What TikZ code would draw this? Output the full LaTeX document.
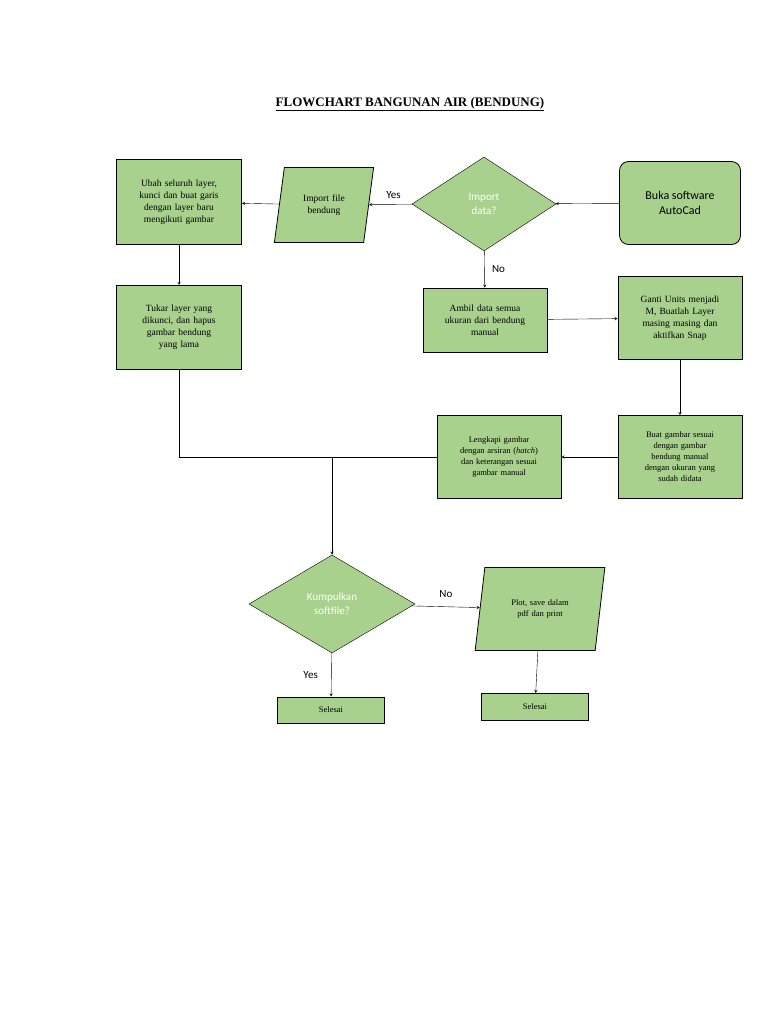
\documentclass[tikz,border=0pt]{standalone}
\usepackage{fontspec}
\setmainfont{Liberation Serif}
\newfontfamily\calibri{Carlito}
\usetikzlibrary{shapes.geometric,positioning}
\definecolor{boxgreen}{RGB}{169,209,142}
\tikzset{
  box/.style={draw=black,thick,fill=boxgreen,align=center,font=\fontsize{9.5}{12}\selectfont,inner sep=2pt},
  io/.style={box,trapezium,trapezium left angle=72,trapezium right angle=108,trapezium stretches=true},
  decision/.style={draw=black,fill=boxgreen,diamond,align=center,font=\calibri\fontsize{11}{14}\selectfont,text=white,aspect=1.5,inner sep=0pt},
  flow/.style={->,>=stealth},
  lbl/.style={font=\calibri\fontsize{11}{13}\selectfont}
}
\begin{document}
\begin{tikzpicture}[x=1pt,y=-1pt]
\useasboundingbox (0,0) rectangle (768,1024);

\node[font=\bfseries\fontsize{13}{15}\selectfont] (title) at (410,104) {\underline{FLOWCHART BANGUNAN AIR (BENDUNG)}};

% top row
\node[box,rounded corners=9pt,minimum width=121pt,minimum height=83pt,font=\calibri\fontsize{12}{15}\selectfont] (buka) at (680,203) {Buka software\\AutoCad};
\node[decision,minimum width=144pt,minimum height=94pt] (importdata) at (484,204) {Import\\data?};
\node[io,minimum width=100pt,minimum height=75pt,text width=60pt] (importfile) at (324,205) {Import file\\bendung};
\node[box,minimum width=125pt,minimum height=85pt,text width=115pt] (ubah) at (179,202) {Ubah seluruh layer,\\kunci dan buat garis\\dengan layer baru\\mengikuti gambar};

% second row
\node[box,minimum width=125pt,minimum height=84pt,text width=115pt,anchor=north] (tukar) at (179,285) {Tukar layer yang\\dikunci, dan hapus\\gambar bendung\\yang lama};
\node[box,minimum width=124pt,minimum height=64pt,text width=115pt] (ambil) at (485,320) {Ambil data semua\\ukuran dari bendung\\manual};
\node[box,minimum width=124pt,minimum height=83pt,text width=118pt] (ganti) at (680,318) {Ganti Units menjadi\\M, Buatlah Layer\\masing masing dan\\aktifkan Snap};

% third row
\node[box,minimum width=124pt,minimum height=83pt,text width=118pt,font=\fontsize{8.5}{11}\selectfont] (buat) at (680,457) {Buat gambar sesuai\\dengan gambar\\bendung manual\\dengan ukuran yang\\sudah didata};
\node[box,minimum width=124pt,minimum height=83pt,text width=118pt,font=\fontsize{8.5}{11}\selectfont] (lengkapi) at (499,457) {Lengkapi gambar\\dengan arsiran (\textit{hatch})\\dan keterangan sesuai\\gambar manual};

% bottom
\node[decision,minimum width=166pt,minimum height=98pt] (kumpulkan) at (332,604) {Kumpulkan\\softfile?};
\node[io,minimum width=130pt,minimum height=83pt,text width=80pt,font=\fontsize{8.5}{11}\selectfont] (plot) at (540,609) {Plot, save dalam\\pdf dan print};
\node[box,minimum width=107pt,minimum height=26pt,font=\fontsize{8.5}{11}\selectfont] (selesaiA) at (331,710) {Selesai};
\node[box,minimum width=107pt,minimum height=27pt,font=\fontsize{8.5}{11}\selectfont] (selesaiB) at (535,707) {Selesai};

\coordinate (corner) at (tukar.south |- lengkapi.west);
\coordinate (join) at (kumpulkan.north |- lengkapi.west);

\draw[flow] (buka) -- (importdata);
\draw[flow] (importdata) -- node[lbl,above right=2pt and -8pt] {Yes} (importfile);
\draw[flow] (importfile) -- (ubah);
\draw[flow] (ubah) -- (tukar);
\draw[flow] (importdata) -- node[lbl,right=4pt] {No} (ambil);
\draw[flow] (ambil) -- (ganti);
\draw[flow] (ganti) -- (buat);
\draw[flow] (buat) -- (lengkapi);
\draw (tukar.south) -- (corner) -- (lengkapi.west);
\draw[flow] (join) -- (kumpulkan.north);
\draw[flow] (kumpulkan) -- node[lbl,above=6pt] {No} (plot);
\draw[flow] (kumpulkan) -- node[lbl,left=10pt] {Yes} (selesaiA);
\draw[flow] (plot) -- (selesaiB);
\end{tikzpicture}
\end{document}
